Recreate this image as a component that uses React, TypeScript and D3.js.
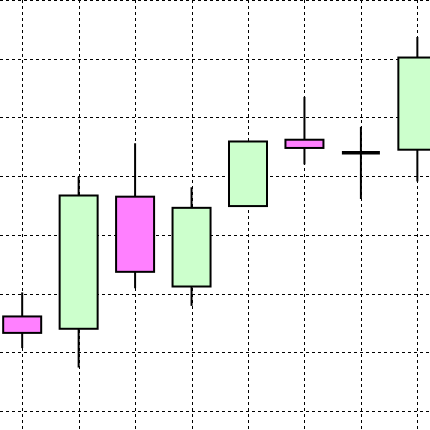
import React from "react";
import * as d3 from "d3";

const labels = ["1", "2", "3", "4", "5", "6", "7", "8"];
const openVals = [2.61, 2.40, 4.65, 3.12, 4.49, 5.62, 5.40, 5.45];
const highVals = [3.02, 4.99, 5.56, 4.81, 5.59, 6.35, 5.84, 7.37];
const lowVals = [2.07, 1.74, 3.09, 2.79, 4.49, 5.20, 4.61, 4.91];
const closeVals = [2.33, 4.67, 3.37, 4.46, 5.59, 5.48, 5.40, 7.02];
const yTicks = [1, 2, 3, 4, 5, 6, 7, 8];

const W = 430;
const H = 430;

export default function App() {
  const x = d3.scaleLinear().domain([-0.393, 7.224]).range([0, W]);
  const y = d3.scaleLinear().domain([8 - 430 / 58.71, 8]).range([H, 0]);
  const bodyW = 38;
  const xTicks = labels.map((_, i) => i);

  return (
    <svg
      width={W}
      height={H}
      style={{ position: "absolute", left: 0, top: 0, background: "#fff" }}
    >
      <g>
        {yTicks.map((t) => (
          <line
            key={"h" + t}
            x1={0}
            x2={W}
            y1={Math.round(y(t)) + 0.5}
            y2={Math.round(y(t)) + 0.5}
            stroke="#000"
            strokeWidth={1}
            strokeDasharray="3,3"
          />
        ))}
        {xTicks.map((t) => (
          <line
            key={"v" + t}
            x1={Math.round(x(t)) + 0.5}
            x2={Math.round(x(t)) + 0.5}
            y1={0}
            y2={H}
            stroke="#000"
            strokeWidth={1}
            strokeDasharray="3,3"
          />
        ))}
      </g>
      <g>
        {labels.map((_, i) => {
          const o = openVals[i];
          const c = closeVals[i];
          const h = highVals[i];
          const l = lowVals[i];
          const cx = x(i);
          const top = y(Math.max(o, c));
          const bot = y(Math.min(o, c));
          const up = c > o;
          const doji = o === c;
          return (
            <g key={i}>
              <line x1={cx} x2={cx} y1={y(h)} y2={y(l)} stroke="#000" strokeWidth={2} />
              {doji ? (
                <line
                  x1={cx - bodyW / 2}
                  x2={cx + bodyW / 2}
                  y1={top}
                  y2={top}
                  stroke="#000"
                  strokeWidth={3.5}
                />
              ) : (
                <rect
                  x={cx - bodyW / 2}
                  y={top}
                  width={bodyW}
                  height={bot - top}
                  fill={up ? "#ccffcc" : "#ff80ff"}
                  stroke="#000"
                  strokeWidth={2}
                />
              )}
            </g>
          );
        })}
      </g>
    </svg>
  );
}
